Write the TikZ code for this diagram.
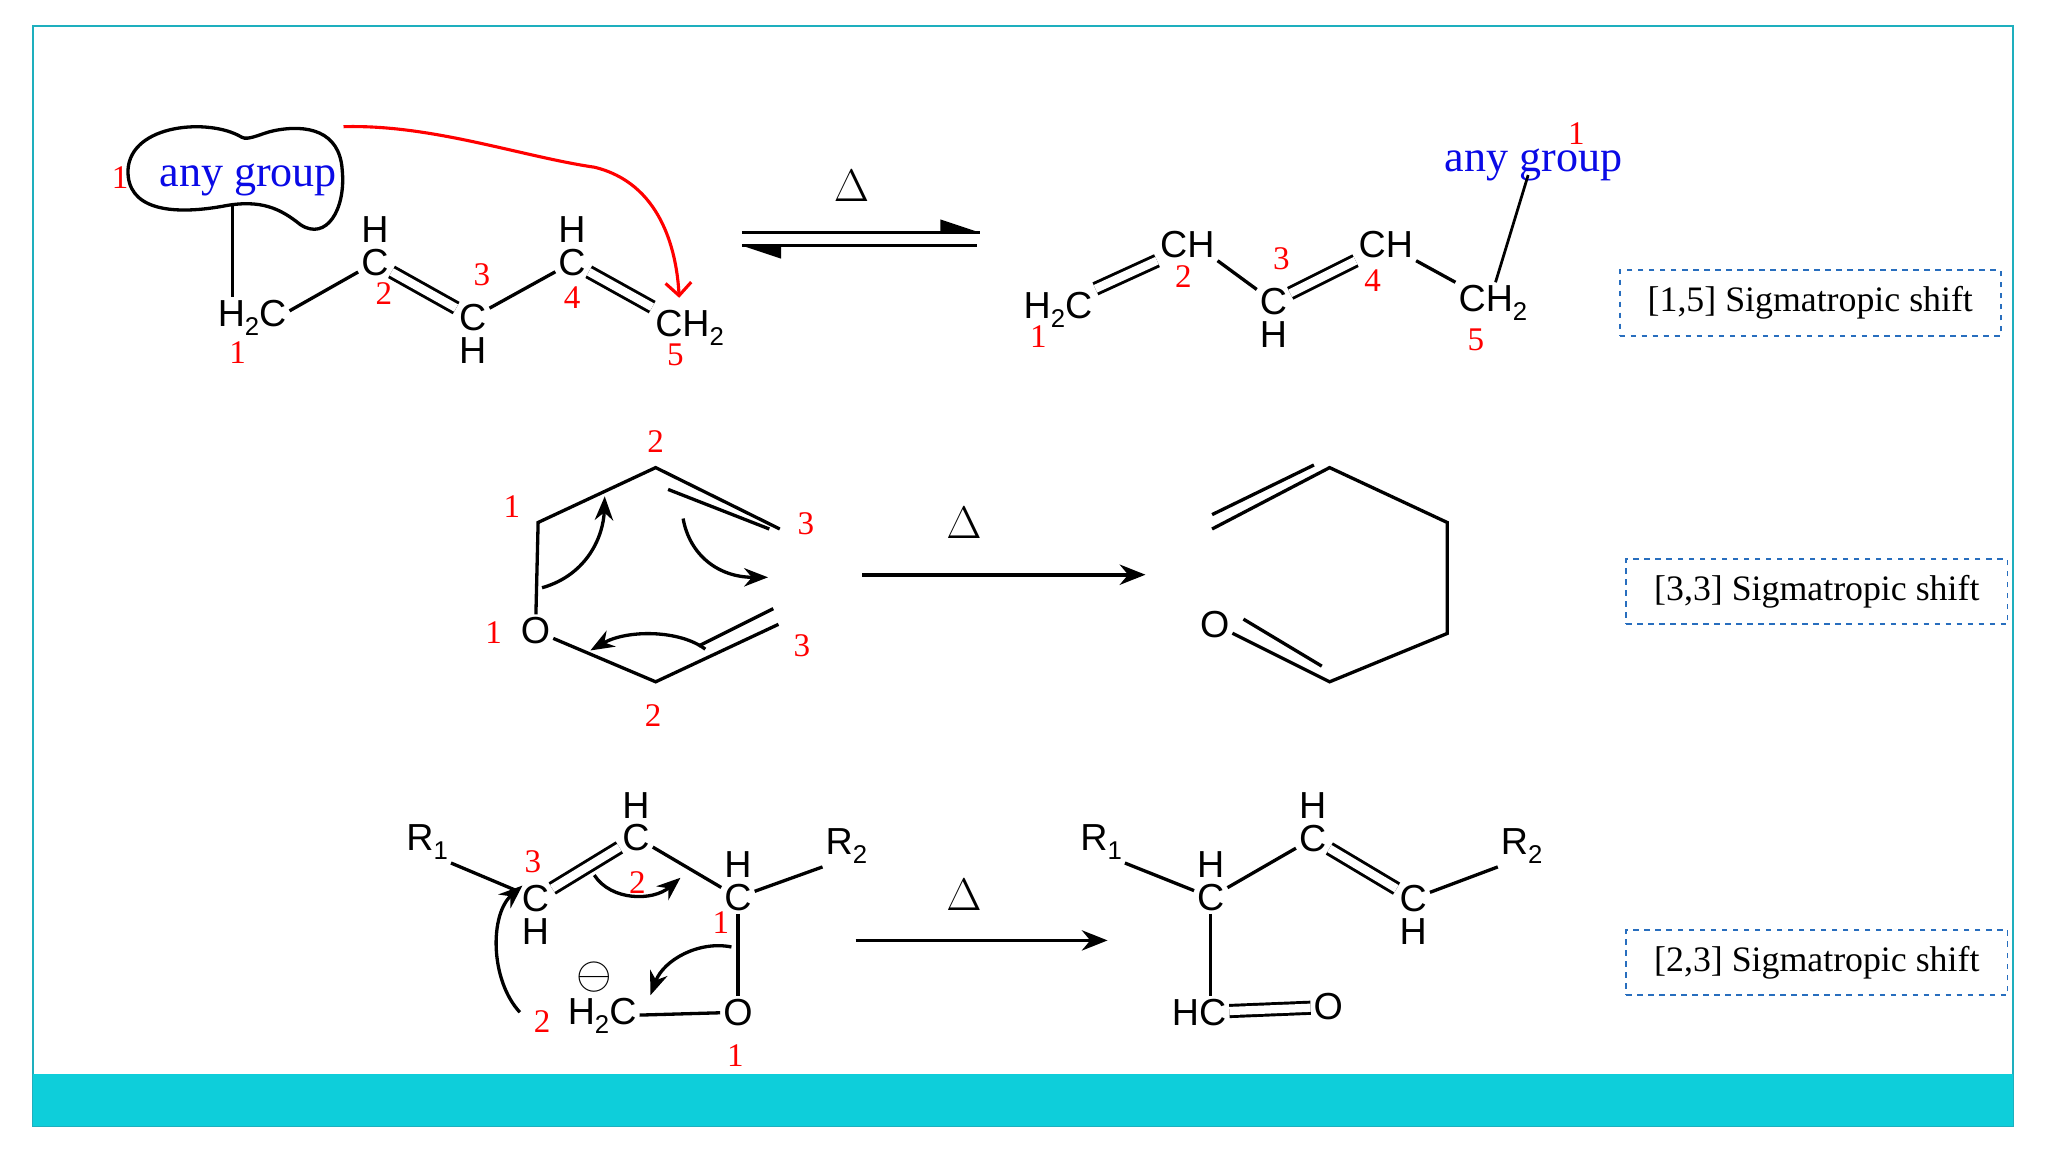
\documentclass[tikz,border=0pt]{standalone}
\usepackage{fontspec}
\setmainfont{Liberation Serif}
\newfontfamily\chemf{Liberation Sans}
\usetikzlibrary{arrows.meta,calc}
\definecolor{teal1}{RGB}{30,175,190}
\definecolor{tealbar}{RGB}{14,206,218}
\definecolor{boxblue}{RGB}{40,110,190}
\definecolor{grpblue}{RGB}{10,10,230}
\newcommand\sbs[1]{\raisebox{-0.45ex}{\fontsize{14}{14}\selectfont #1}}
\tikzset{
 atom/.style={font=\chemf\fontsize{20.5}{20.5}\selectfont, inner sep=1.5pt},
 num/.style={font=\fontsize{18}{18}\selectfont, text=red, inner sep=0pt},
 grp/.style={font=\fontsize{24}{24}\selectfont, text=grpblue, inner sep=1pt},
 bond/.style={line width=1.8pt},
 dbond/.style={line width=1.6pt, double=white, double distance=4.5pt},
 lbl/.style={draw=boxblue, dashed, line width=1pt, minimum width=73mm, minimum height=12.5mm, font=\fontsize{19.5}{19.5}\selectfont},
 delta/.style={font=\fontsize{25}{25}\selectfont, inner sep=0pt},
 rxn/.style={line width=2pt, -{Stealth[length=14pt,width=11pt]}},
 curly/.style={line width=1.8pt, -{Stealth[length=13pt,width=10pt]}}
}
\begin{document}
\begin{tikzpicture}[x=0.25mm,y=-0.25mm]
\useasboundingbox (0,0) rectangle (1568,882);
\fill[white] (0,0) rectangle (1568,882);
\draw[teal1, line width=1pt] (25,20) rectangle (1541,862);
\fill[tealbar] (25,822) rectangle (1541,862);

% ===== top reactant =====
\draw[line width=1.8pt] (185,105) .. controls (160,90) and (100,95) .. (98,130) .. controls (97,160) and (130,165) .. (170,158) .. controls (200,152) and (215,160) .. (230,172) .. controls (250,185) and (265,160) .. (262,130) .. controls (260,100) and (235,95) .. (210,100) .. controls (200,102) and (190,108) .. (185,105);
\node[grp] (g1) at (190,138) {any group};
\node[num] (g1n) at (92,136) {1};
\coordinate (g1b) at (178,157);
\node[atom] (a1) at (193,243) {H\sbs{2}C};
\node[num] at (182,270) {1};
\node[atom] (a2) at (287,201) {C};
\node[atom] (a2h) at (287,176) {H};
\node[num] at (294,225) {2};
\node[atom] (a3) at (362,243) {C};
\node[atom] (a3h) at (362,268) {H};
\node[num] at (369,210) {3};
\node[atom] (a4) at (438,201) {C};
\node[atom] (a4h) at (438,176) {H};
\node[num] at (438,228) {4};
\node[atom] (a5) at (528,251) {CH\sbs{2}};
\node[num] at (517,272) {5};
\draw[line width=1.3pt] (g1b) -- (a1.north -| g1b);
\draw[bond] (a1.east) ++(0,-5) -- (a2);
\draw[dbond] (a2) -- (a3);
\draw[bond] (a3) -- (a4);
\draw[dbond] (a4) -- (a5.north west);
\coordinate (rs) at (263,97);
\coordinate (re) at (520,228);
\draw[red, line width=1.7pt, -{Straight Barb[length=7pt,width=14pt]}] (rs) .. controls (330,95) and (400,120) .. (455,128) .. controls (505,140) and (518,190) .. (re);

% equilibrium
\coordinate (e1) at (568,178); \coordinate (e2) at (750,178);
\coordinate (e3) at (568,188); \coordinate (e4) at (748,188);
\draw[line width=2pt] (e1) -- (e2);
\fill (e2) -- ++(-30,-10) -- ++(0,10) -- cycle;
\draw[line width=2pt] (e3) -- (e4);
\fill (e3) -- ++(30,10) -- ++(0,-10) -- cycle;
\node[delta] (d1) at (652,142) {$\Delta$};

% ===== top product =====
\node[atom] (b1) at (810,237) {H\sbs{2}C};
\node[num] at (795,258) {1};
\node[atom] (b2) at (909,187) {CH};
\node[num] at (906,212) {2};
\node[atom] (b3) at (975,231) {C};
\node[atom] (b3h) at (975,256) {H};
\node[num] at (981,198) {3};
\node[atom] (b4) at (1061,187) {CH};
\node[num] at (1051,215) {4};
\node[atom] (b5) at (1143,232) {CH\sbs{2}};
\node[num] at (1130,260) {5};
\node[grp] (g2) at (1174,126) {any group};
\node[num] at (1207,102) {1};
\coordinate (g2b) at (1170,134);
\draw[dbond] (b1.north east) -- (b2.south west);
\draw[bond] (b2.south east) -- (b3);
\draw[dbond] (b3) -- (b4.south west);
\draw[bond] (b4.south east) -- (b5.north west);
\draw[line width=1.5pt] (b5.north) ++(2,0) -- (g2b);
\node[lbl] (l1) at (1386,232) {[1,5] Sigmatropic shift};

% ===== middle reactant =====
\coordinate (m1) at (412,400);
\coordinate (m2) at (502,358);
\coordinate (m3) at (597,405);
\node[atom] (mo) at (410,483) {O};
\coordinate (m4) at (502,522);
\coordinate (m5) at (596,478);
\draw[bond] (mo) -- (m1) -- (m2) -- (m3);
\draw[bond] ($(m2)!0.1!(m3)+(0,12)$) -- ($(m2)!1!(m3)+(-8,0)$);
\draw[bond] (mo) -- (m4) -- (m5);
\draw[bond] ($(m4)!0.35!(m5)+(0,-12)$) -- ($(m4)!1!(m5)+(-4,-12)$);
\node[num] at (502,338) {2};
\node[num] at (392,388) {1};
\node[num] at (617,401) {3};
\node[num] at (378,484) {1};
\node[num] at (614,494) {3};
\node[num] at (500,548) {2};
\draw[curly] (415,450) .. controls (450,440) and (462,410) .. (463,380);
\draw[curly] (523,397) .. controls (528,425) and (550,442) .. (588,442);
\draw[curly] (540,497) .. controls (520,482) and (480,482) .. (452,498);
\coordinate (ma1) at (660,440); \coordinate (ma2) at (877,440);
\draw[rxn] (ma1) -- (ma2);
\node[delta] (d2) at (738,400) {$\Delta$};

% ===== middle product =====
\coordinate (p1) at (928,405);
\coordinate (p2) at (1018,358);
\coordinate (p3) at (1108,400);
\coordinate (p4) at (1108,485);
\coordinate (p5) at (1018,522);
\node[atom] (po) at (930,478) {O};
\draw[bond] (p1) -- (p2) -- (p3) -- (p4) -- (p5) -- (po);
\draw[bond] ($(p1)+(0,-11)$) -- ($(p2)+(-12,-2)$);
\draw[bond] ($(p5)+(-6,-12)$) -- ($(po)+(22,-4)$);
\node[lbl] (l2) at (1391,453) {[3,3] Sigmatropic shift};

% ===== bottom reactant =====
\node[atom] (r1) at (327,645) {R\sbs{1}};
\node[atom] (c3) at (410,688) {C};
\node[atom] (c3h) at (410,713) {H};
\node[num] at (408,660) {3};
\node[atom] (c2) at (487,641) {C};
\node[atom] (c2h) at (487,617) {H};
\node[num] at (488,676) {2};
\node[atom] (c1) at (565,687) {C};
\node[atom] (c1h) at (565,662) {H};
\node[num] at (552,706) {1};
\node[atom] (r2) at (648,648) {R\sbs{2}};
\node[atom] (o1) at (565,775) {O};
\node[num] at (563,808) {1};
\node[atom] (ch2) at (461,778) {H\sbs{2}C};
\node[num] at (415,782) {2};
\node[font=\fontsize{24}{24}\selectfont, inner sep=0pt] (neg) at (455,748) {$\ominus$};
\draw[bond] (r1.south east) -- (c3);
\draw[dbond] (c3) -- (c2);
\draw[bond] (c2) -- (c1);
\draw[bond] (c1) -- (r2.south west);
\draw[bond] (c1) -- (o1);
\draw[bond] (o1) -- (ch2);
\draw[curly] (398,775) .. controls (375,750) and (375,700) .. (400,678);
\draw[curly] (455,670) .. controls (468,690) and (500,690) .. (521,672);
\draw[curly] (560,725) .. controls (535,720) and (508,735) .. (498,762);
\coordinate (ba1) at (655,720); \coordinate (ba2) at (848,720);
\draw[rxn] (ba1) -- (ba2);
\node[delta] (d3) at (738,685) {$\Delta$};

% ===== bottom product =====
\node[atom] (s1) at (843,645) {R\sbs{1}};
\node[atom] (t1) at (927,687) {C};
\node[atom] (t1h) at (927,662) {H};
\node[atom] (t2) at (1005,642) {C};
\node[atom] (t2h) at (1005,617) {H};
\node[atom] (t3) at (1082,688) {C};
\node[atom] (t3h) at (1082,713) {H};
\node[atom] (s2) at (1165,648) {R\sbs{2}};
\node[atom] (hc) at (918,775) {HC};
\node[atom] (o2) at (1017,771) {O};
\draw[bond] (s1.south east) -- (t1);
\draw[bond] (t1) -- (t2);
\draw[dbond] (t2) -- (t3);
\draw[bond] (t3) -- (s2.south west);
\draw[bond] (t1) -- (t1 |- hc.north);
\draw[dbond] (hc) -- (o2);
\node[lbl] (l3) at (1391,737) {[2,3] Sigmatropic shift};
\end{tikzpicture}
\end{document}
